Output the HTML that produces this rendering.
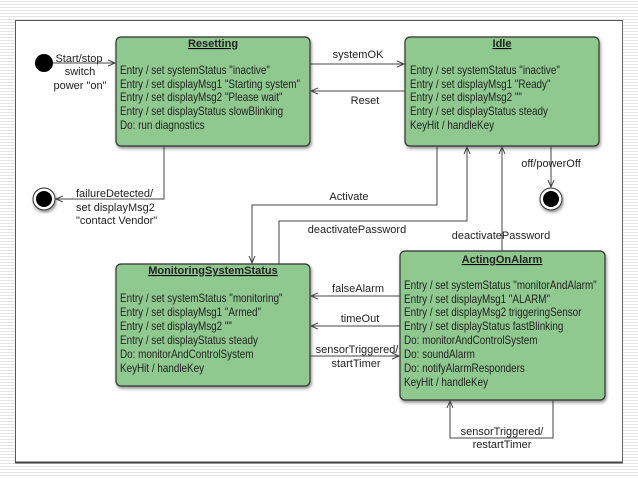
<!DOCTYPE html>
<html><head><style>
html,body{margin:0;padding:0;}
body{width:638px;height:478px;overflow:hidden;background:repeating-linear-gradient(#fff 0 1px,#e4e4e4 1px 2px,#fff 2px 3px);}
svg{position:absolute;left:0;top:0;}
text{font-family:"Liberation Sans",sans-serif;fill:#222;}
</style></head><body>
<svg width="638" height="478" viewBox="0 0 638 478">
<defs>
<marker id="a" markerWidth="8" markerHeight="8" refX="7" refY="4" orient="auto" markerUnits="userSpaceOnUse">
<path d="M0,1 L7,4 L0,7" fill="none" stroke="#444" stroke-width="1"/></marker>
<filter id="s" x="-5%" y="-5%" width="115%" height="120%"><feDropShadow dx="1" dy="2" stdDeviation="1.5" flood-color="#000" flood-opacity="0.45"/></filter>
</defs>
<rect x="15.5" y="20.5" width="607" height="442" fill="#fff" stroke="#555" stroke-width="1"/>
<line x1="15" y1="462.5" x2="623" y2="462.5" stroke="#444" stroke-width="2"/>
<line x1="622.5" y1="20" x2="622.5" y2="463" stroke="#666" stroke-width="1"/>

<g fill="#8fc98f" stroke="#333" stroke-width="1.2" filter="url(#s)">
<rect x="116" y="37" width="194" height="109" rx="5"/>
<rect x="405" y="37" width="194" height="109" rx="5"/>
<rect x="116" y="264" width="194" height="122" rx="5"/>
<rect x="400" y="251" width="205" height="149" rx="5"/>
</g>

<g fill="none" stroke="#444" stroke-width="1">
<line x1="53" y1="63" x2="115" y2="63" marker-end="url(#a)"/>
<polyline points="164,146 164,199 56,199" marker-end="url(#a)"/>
<line x1="310" y1="64" x2="404" y2="64" marker-end="url(#a)"/>
<line x1="405" y1="91" x2="311" y2="91" marker-end="url(#a)"/>
<polyline points="437,146 437,205 252,205 252,263" marker-end="url(#a)"/>
<polyline points="279,264 279,221 467,221 467,147" marker-end="url(#a)"/>
<line x1="502" y1="251" x2="502" y2="147" marker-end="url(#a)"/>
<line x1="551" y1="146" x2="551" y2="187" marker-end="url(#a)"/>
<line x1="400" y1="296" x2="311" y2="296" marker-end="url(#a)"/>
<line x1="400" y1="326" x2="311" y2="326" marker-end="url(#a)"/>
<line x1="310" y1="356" x2="399" y2="356" marker-end="url(#a)"/>
<polyline points="553,400 553,438 450,438 450,401" marker-end="url(#a)"/>
</g>

<circle cx="44" cy="63" r="9" fill="#000"/>
<g filter="url(#s)"><circle cx="44" cy="199" r="11" fill="#fff" stroke="#333" stroke-width="1"/></g>
<circle cx="44" cy="199" r="8" fill="#000"/>
<g filter="url(#s)"><circle cx="551" cy="199" r="11" fill="#fff" stroke="#333" stroke-width="1"/></g>
<circle cx="551" cy="199" r="8" fill="#000"/>

<g font-size="11" text-anchor="middle">
<text x="79" y="62">Start/stop</text>
<text x="80" y="75">switch</text>
<text x="80" y="89">power "on"</text>
<text x="358" y="58">systemOK</text>
<text x="365" y="104">Reset</text>
<text x="76" y="197" text-anchor="start">failureDetected/</text>
<text x="76" y="211" text-anchor="start">set displayMsg2</text>
<text x="76" y="224" text-anchor="start">"contact Vendor"</text>
<text x="349" y="200">Activate</text>
<text x="357" y="233">deactivatePassword</text>
<text x="501" y="239">deactivatePassword</text>
<text x="551" y="167">off/powerOff</text>
<text x="358" y="292">falseAlarm</text>
<text x="360" y="322">timeOut</text>
<text x="357" y="353">sensorTriggered/</text>
<text x="356" y="367">startTimer</text>
<text x="502" y="435">sensorTriggered/</text>
<text x="502" y="448">restartTimer</text>
</g>

<g font-size="11" font-weight="bold" text-anchor="middle" text-decoration="underline">
<text x="213" y="47">Resetting</text>
<text x="502" y="47">Idle</text>
<text x="213" y="274">MonitoringSystemStatus</text>
<text x="502" y="263">ActingOnAlarm</text>
</g>

<g font-size="11.5" transform="translate(120,0) scale(0.86,1)">
<text x="0" y="74">Entry / set systemStatus "inactive"</text>
<text x="0" y="88">Entry / set displayMsg1 "Starting system"</text>
<text x="0" y="101">Entry / set displayMsg2 "Please wait"</text>
<text x="0" y="115">Entry / set displayStatus slowBlinking</text>
<text x="0" y="129">Do: run diagnostics</text>
</g>
<g font-size="11.5" transform="translate(410,0) scale(0.86,1)">
<text x="0" y="74">Entry / set systemStatus "inactive"</text>
<text x="0" y="88">Entry / set displayMsg1 "Ready"</text>
<text x="0" y="101">Entry / set displayMsg2 ""</text>
<text x="0" y="115">Entry / set displayStatus steady</text>
<text x="0" y="129">KeyHit / handleKey</text>
</g>
<g font-size="11.5" transform="translate(120,0) scale(0.86,1)">
<text x="0" y="302">Entry / set systemStatus "monitoring"</text>
<text x="0" y="316">Entry / set displayMsg1 "Armed"</text>
<text x="0" y="330">Entry / set displayMsg2 ""</text>
<text x="0" y="344">Entry / set displayStatus steady</text>
<text x="0" y="358">Do: monitorAndControlSystem</text>
<text x="0" y="372">KeyHit / handleKey</text>
</g>
<g font-size="11.5" transform="translate(404,0) scale(0.86,1)">
<text x="0" y="289">Entry / set systemStatus "monitorAndAlarm"</text>
<text x="0" y="303">Entry / set displayMsg1 "ALARM"</text>
<text x="0" y="316">Entry / set displayMsg2 triggeringSensor</text>
<text x="0" y="330">Entry / set displayStatus fastBlinking</text>
<text x="0" y="344">Do: monitorAndControlSystem</text>
<text x="0" y="358">Do: soundAlarm</text>
<text x="0" y="372">Do: notifyAlarmResponders</text>
<text x="0" y="386">KeyHit / handleKey</text>
</g>
</svg>
</body></html>
